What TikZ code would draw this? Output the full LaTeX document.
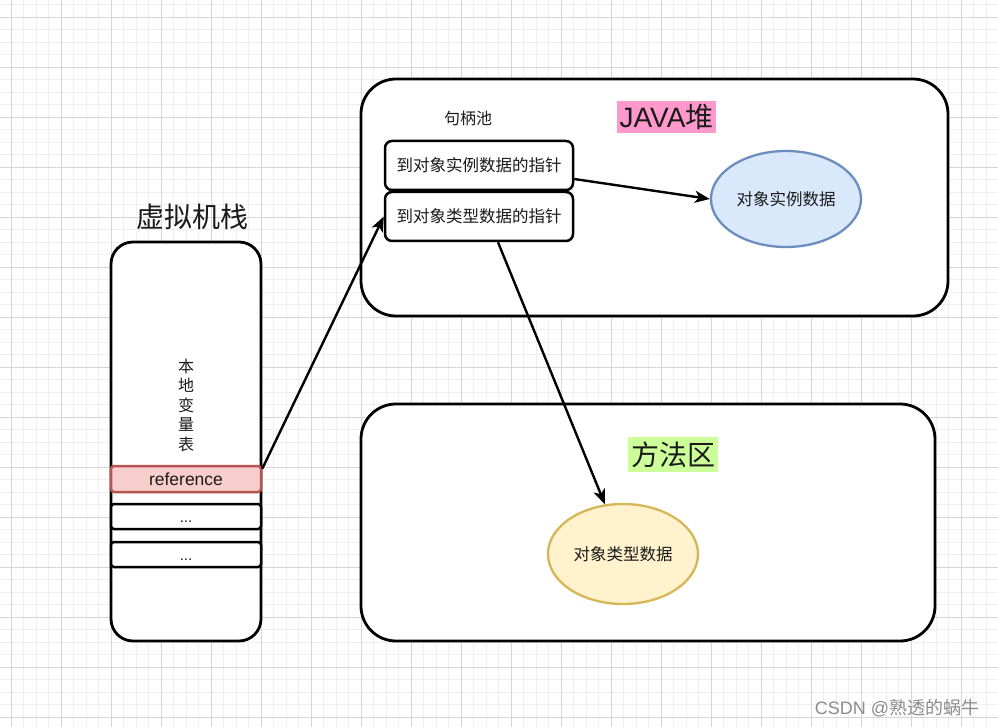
\documentclass[tikz,border=0pt]{standalone}
\usepackage{fontspec}
\setmainfont{Liberation Sans}
\newfontfamily\cjk{Noto Sans CJK SC}
\usetikzlibrary{arrows.meta,calc,shapes.geometric}
\definecolor{gridminor}{HTML}{EFEFEF}
\definecolor{gridmajor}{HTML}{D6D6D6}
\definecolor{refill}{HTML}{F8CECC}
\definecolor{redraw}{HTML}{B85450}
\definecolor{bluefill}{HTML}{DAE8FC}
\definecolor{bluedraw}{HTML}{6C8EBF}
\definecolor{yelfill}{HTML}{FFF2CC}
\definecolor{yeldraw}{HTML}{D6B656}
\definecolor{pinkbg}{HTML}{FF99CC}
\definecolor{greenbg}{HTML}{CCFF99}
\definecolor{txt}{HTML}{1A1A1A}
\tikzset{
  bigbox/.style={draw=black, line width=2.8pt, fill=white, rounded corners=35pt, inner sep=0pt},
  slot/.style={draw=black, line width=2.5pt, fill=white, rounded corners=3pt, minimum width=150pt, inner sep=0pt, text=txt},
  dotslot/.style={slot, minimum height=25pt, font=\fontsize{15}{18}\selectfont, text height=11pt, text depth=0pt},
  ptrbox/.style={draw=black, line width=2.5pt, fill=white, rounded corners=7pt, minimum width=188pt, minimum height=49pt, inner sep=0pt, text=txt, font=\cjk\fontsize{16.5}{18}\selectfont},
  oval/.style={ellipse, line width=2.3pt, inner sep=0pt, text=txt, font=\cjk\fontsize{16.5}{18}\selectfont},
  conn/.style={line width=2.4pt, -{Stealth[length=15pt,width=12pt,inset=4pt]}},
  lbl/.style={inner sep=0pt, text=txt}
}
\begin{document}
\begin{tikzpicture}[x=1pt,y=-1pt]
\useasboundingbox (0,0) rectangle (998,727);
\fill[white] (0,0) rectangle (998,727);
% grid
\foreach \i in {0,...,80} {\draw[gridminor, line width=0.9pt] ({-1.2+12.5*\i},0) -- ({-1.2+12.5*\i},727);}
\foreach \i in {0,...,59} {\draw[gridminor, line width=0.9pt] (0,{4.8+12.5*\i}) -- (998,{4.8+12.5*\i});}
\foreach \i in {0,...,20} {\draw[gridmajor, line width=0.9pt] ({11.3+50*\i},0) -- ({11.3+50*\i},727);}
\foreach \i in {0,...,14} {\draw[gridmajor, line width=0.9pt] (0,{17.3+50*\i}) -- (998,{17.3+50*\i});}

% JVM stack
\node[lbl, font=\cjk\fontsize{28}{32}\selectfont] (stacktitle) at (192,217) {虚拟机栈};
\node[bigbox, rounded corners=22pt, minimum width=150pt, minimum height=399pt] (stack) at (186,441.5) {};
\node[lbl, font=\cjk\fontsize{16}{19.5}\selectfont, align=center] (localvars) at (186,405) {本\\地\\变\\量\\表};
\node[slot, fill=refill, draw=redraw, minimum height=26pt, font=\fontsize{17.5}{20}\selectfont] (reference) at (186,479) {reference};
\node[dotslot] (dots1) at (186,516.5) {...};
\node[dotslot] (dots2) at (186,554.5) {...};

% Java heap
\node[bigbox, minimum width=587pt, minimum height=237pt] (heap) at (654.5,197.5) {};
\node[lbl, font=\cjk\fontsize{16}{18}\selectfont] (handlepool) at (468,118) {句柄池};
\node[lbl, fill=pinkbg, minimum width=99pt, minimum height=32pt, font=\fontsize{28}{32}\selectfont] (heaptitle) at (666.5,117) {JAVA{\cjk 堆}};
\node[ptrbox] (box1) at (479,165.5) {到对象实例数据的指针};
\node[ptrbox] (box2) at (479,216.5) {到对象类型数据的指针};
\node[oval, draw=bluedraw, fill=bluefill, minimum width=150pt, minimum height=96pt] (inst) at (786,199) {对象实例数据};

% method area
\node[bigbox, minimum width=574pt, minimum height=237pt] (method) at (648,522.5) {};
\node[lbl, fill=greenbg, minimum width=90pt, minimum height=35pt, font=\cjk\fontsize{28}{32}\selectfont] (methodtitle) at (673,454.5) {方法区};
\node[oval, draw=yeldraw, fill=yelfill, minimum width=150pt, minimum height=100pt] (typedata) at (623,554) {对象类型数据};

% connectors
\coordinate (refout) at ($(reference.north east)+(0,4)$);
\coordinate (b1out) at ($(box1.east)+(0,13.5)$);
\coordinate (b2out) at ($(box2.south)+(19,0)$);
\draw[conn] (refout) -- (box2.west);
\draw[conn] (b1out) -- (inst.west);
\draw[conn] (b2out) -- (typedata.110);

% watermark
\node[lbl, text=black!45, font=\fontsize{18}{20}\selectfont] (wm) at (897,708) {CSDN @{\cjk 熟透的蜗牛}};
\end{tikzpicture}
\end{document}
